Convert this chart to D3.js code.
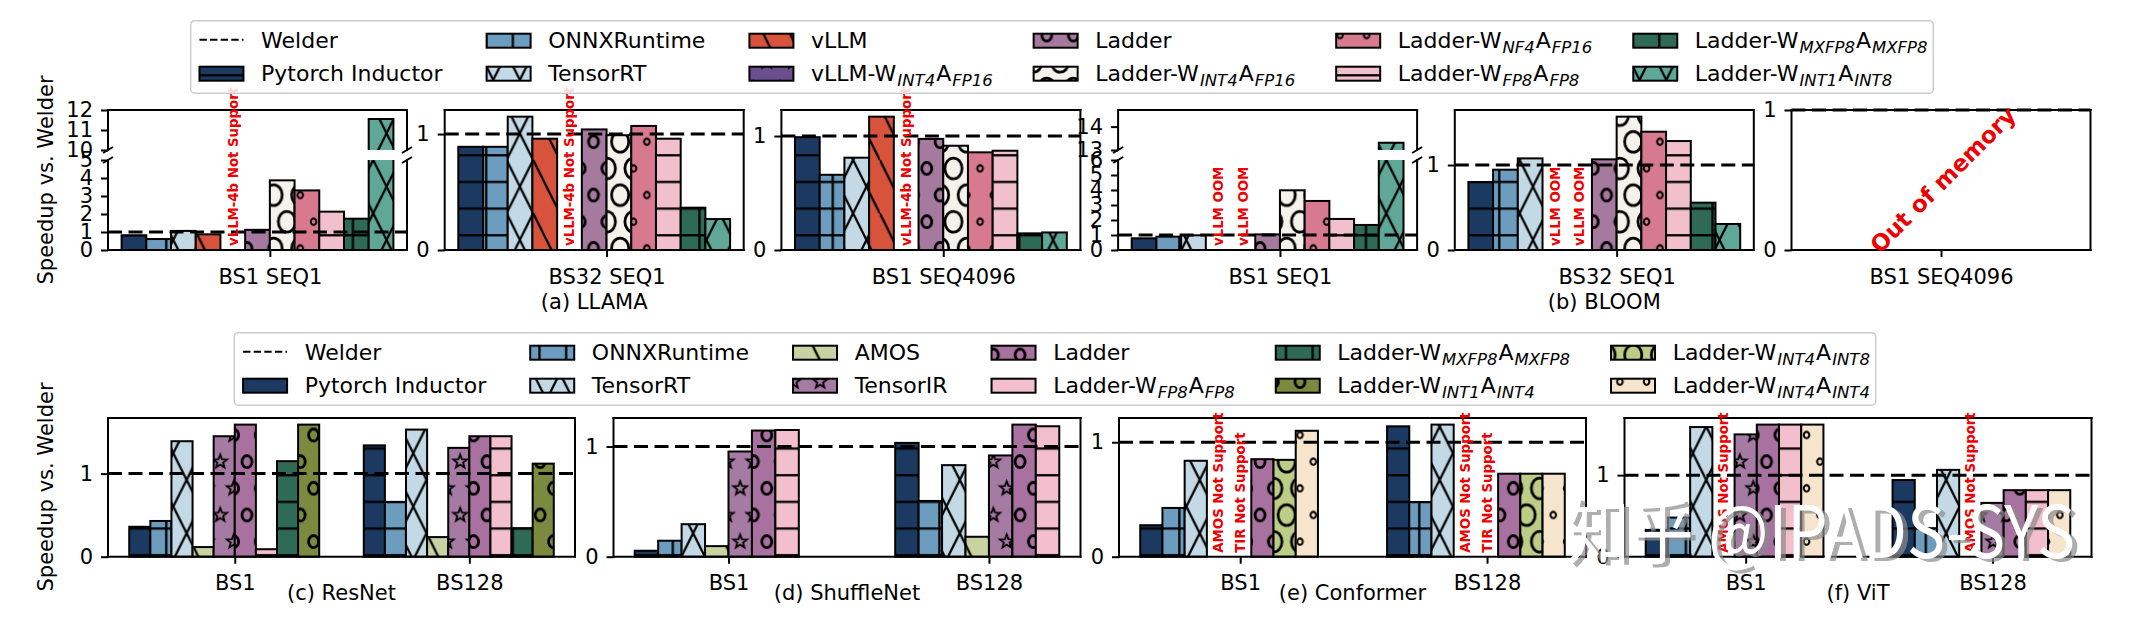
<!DOCTYPE html>
<html><head><meta charset="utf-8">
<script src="https://cdn.jsdelivr.net/npm/d3@7"></script>
<style>
html,body{margin:0;padding:0;background:#fff;}
svg{display:block;font-family:"DejaVu Sans",sans-serif;}
</style></head><body>
<svg id="chart" width="2136" height="620"></svg>
<script>
// ---------------- DATA ----------------
const topSeries = ["Pytorch Inductor","ONNXRuntime","TensorRT","vLLM","vLLM-W_{INT4}A_{FP16}","Ladder","Ladder-W_{INT4}A_{FP16}","Ladder-W_{NF4}A_{FP16}","Ladder-W_{FP8}A_{FP8}","Ladder-W_{MXFP8}A_{MXFP8}","Ladder-W_{INT1}A_{INT8}"];
const topColors = ["#1c3a61","#6c9cbe","#c3dae6","#d8533b","#6b4f8f","#a6799f","#f5f1eb","#d87a8f","#f2c0cc","#2f6a56","#5fa797"];
const topHatches = ["-","+","x","\\","*","o","O",".","-","+","x"];

const llamaCats = ["BS1 SEQ1","BS32 SEQ1","BS1 SEQ4096"];
const bloomCats = ["BS1 SEQ1","BS32 SEQ1","BS1 SEQ4096"];
const llamaBS1SEQ1    = [0.82, 0.61, 1.06, 0.87, null, 1.12, 3.87, 3.31, 2.13, 1.74, 11.55];
const llamaBS32SEQ1   = [0.89, 0.89, 1.15, 0.96, null, 1.04, 0.99, 1.07, 0.96, 0.365, 0.267];
const llamaBS1SEQ4096 = [0.99, 0.66, 0.81, 1.17, null, 0.975, 0.915, 0.857, 0.871, 0.146, 0.154];
const bloomBS1SEQ1    = [0.78, 0.89, 0.98, null, null, 1.04, 3.98, 3.27, 2.07, 1.67, 13.31];
const bloomBS32SEQ1   = [0.80, 0.945, 1.078, null, null, 1.067, 1.569, 1.392, 1.282, 0.557, 0.306];
const llamaNotes = [[4, "vLLM-4b Not Support"]];
const bloomNotes = [[3, "vLLM OOM"], [4, "vLLM OOM"]];
const bloomLongNote = "Out of memory";

const cnnSeries = ["Pytorch Inductor","ONNXRuntime","TensorRT","AMOS","TensorIR","Ladder","Ladder-W_{FP8}A_{FP8}","Ladder-W_{MXFP8}A_{MXFP8}","Ladder-W_{INT1}A_{INT4}","Ladder-W_{INT4}A_{INT8}","Ladder-W_{INT4}A_{INT4}"];
const cnnColors = ["#1c3a61","#6c9cbe","#c3dae6","#c7d3a0","#a57ba3","#a9719f","#f3bfcc","#2f6a56","#7b8a3e","#bccd85","#f7e4cd"];
const cnnHatches = ["-","+","x","\\","*","o","-","+","o","O","."];

const batchCats = ["BS1","BS128"];
const resnetSlots = [0,1,2,3,4,5,6,7,8];
const resnetBS1   = [0.36, 0.43, 1.39, 0.116, 1.45, 1.59, 0.09, 1.15, 1.59];
const resnetBS128 = [1.34, 0.66, 1.53, 0.236, 1.31, 1.45, 1.45, 0.344, 1.12];
const shuffleSlots = [0,1,2,3,4,5,6];
const shuffleBS1   = [0.054, 0.145, 0.295, 0.096, 0.955, 1.145, 1.15];
const shuffleBS128 = [1.033, 0.506, 0.831, 0.181, 0.919, 1.199, 1.184];
const conformerSlots = [0,1,2,3,4,5,9,10];
const conformerBS1   = [0.275, 0.426, 0.838, null, null, 0.852, 0.846, 1.10];
const conformerBS128 = [1.139, 0.478, 1.154, null, null, 0.725, 0.725, 0.725];
const conformerNotes = [[3, "AMOS Not Support"], [4, "TIR Not Support"]];
const vitSlots = [0,1,2,3,4,5,6,10];
const vitBS1   = [0.33, 0.48, 1.59, null, 1.50, 1.62, 1.62, 1.62];
const vitBS128 = [0.94, 0.35, 1.065, null, 0.66, 0.816, 0.816, 0.816];
const vitNotes = [[3, "AMOS Not Support"]];

const yLabel = "Speedup vs. Welder";
const baselineName = "Welder";
const watermark = "知乎 @IPADS-SYS";

// ---------------- STYLE ----------------
const FS = 21, LFS = 22, NOTE_FS = 13.3;
const HP = 26.66, HY0 = 22, HX0 = 6.3, CX0 = 7, CY0 = 8.5;
const DIAG_W = 26.66, DIAG_SLOPE = 2;
const HLW = 2.3, EDGE = 2, SPINE = 2;
const NOTE_RED = "#ee0000";

const svg = d3.select("#chart");
const defs = svg.append("defs");

let patCount = 0;
function makePattern(color, hatch) {
  const id = "p" + (patCount++);
  let tw = HP, th = HP;
  if (hatch === "\\" || hatch === "x") { tw = DIAG_W; th = DIAG_W * DIAG_SLOPE; }
  if ("oO.*".includes(hatch)) th = 2 * HP;
  const p = defs.append("pattern").attr("id", id).attr("patternUnits", "userSpaceOnUse")
    .attr("x", 0).attr("y", 0).attr("width", tw).attr("height", th);
  p.append("rect").attr("width", tw).attr("height", th).attr("fill", color);
  const g = p.append("g").attr("stroke", "#000").attr("stroke-width", HLW).attr("fill", "none");
  if (hatch === "-" || hatch === "+") {
    g.append("line").attr("x1", -1).attr("x2", tw + 1).attr("y1", HY0).attr("y2", HY0);
  }
  if (hatch === "+") {
    g.append("line").attr("x1", HX0).attr("x2", HX0).attr("y1", -1).attr("y2", th + 1);
  }
  if (hatch === "\\" || hatch === "x") {
    [-1, 0, 1].forEach(k => g.append("line").attr("x1", 0).attr("y1", k * th).attr("x2", tw).attr("y2", (k + 1) * th));
  }
  if (hatch === "x") {
    [-1, 0, 1].forEach(k => g.append("line").attr("x1", 0).attr("y1", (k + 1) * th).attr("x2", tw).attr("y2", k * th));
  }
  if ("oO.*".includes(hatch)) {
    const pts = [[CX0 + HP / 2, CY0], [CX0, CY0 + HP]];
    pts.forEach(([px, py]) => {
      [-tw, 0, tw].forEach(dx => [-th, 0, th].forEach(dy => {
        const cx = px + dx, cy = py + dy;
        if (hatch === "*") {
          const R = 7.2, r = R * 0.42;
          const star = d3.range(10).map(j => {
            const a = -Math.PI / 2 + j * Math.PI / 5, rr = j % 2 ? r : R;
            return [cx + rr * Math.cos(a), cy + rr * Math.sin(a)];
          });
          g.append("path").attr("d", "M" + star.join("L") + "Z").attr("stroke-width", 1.8);
        } else {
          const rad = hatch === "o" ? [5.0, 6.0] : hatch === "O" ? [8.6, 10.4] : [2.8, 3.2];
          g.append("ellipse").attr("cx", cx).attr("cy", cy).attr("rx", rad[0]).attr("ry", rad[1])
            .attr("stroke-width", hatch === "." ? 2 : 2.8);
        }
      }));
    });
  }
  return "url(#" + id + ")";
}
const topFills = topSeries.map((s, i) => makePattern(topColors[i], topHatches[i]));
const cnnFills = cnnSeries.map((s, i) => makePattern(cnnColors[i], cnnHatches[i]));

let clipCount = 0;
function makeClip(x, y, w, h) {
  const id = "c" + (clipCount++);
  defs.append("clipPath").attr("id", id).append("rect").attr("x", x).attr("y", y).attr("width", w).attr("height", h);
  return "url(#" + id + ")";
}

function styleAxis(g) {
  g.attr("font-size", FS).attr("font-family", "DejaVu Sans");
  g.select(".domain").remove();
  g.selectAll(".tick line").attr("stroke", "#000").attr("stroke-width", SPINE);
  g.selectAll(".tick text").attr("fill", "#000");
}
function yAxis(scale, left, ticks) {
  const g = svg.append("g").attr("transform", `translate(${left},0)`)
    .call(d3.axisLeft(scale).tickValues(ticks).tickSize(7).tickPadding(8).tickFormat(d3.format("d")));
  styleAxis(g);
  return g;
}
function xAxis(scale, bottom, ticks, labels) {
  const g = svg.append("g").attr("transform", `translate(0,${bottom})`)
    .call(d3.axisBottom(scale).tickValues(ticks).tickSize(7).tickFormat((d, i) => labels[i]));
  styleAxis(g);
  g.selectAll(".tick text").attr("dy", null).attr("y", 33.5);
  return g;
}
function spines(x0, x1, y0, y1, sides) {
  const g = svg.append("g").attr("stroke", "#000").attr("stroke-width", SPINE).attr("stroke-linecap", "square");
  if (sides.includes("t")) g.append("line").attr("x1", x0).attr("x2", x1).attr("y1", y0).attr("y2", y0);
  if (sides.includes("b")) g.append("line").attr("x1", x0).attr("x2", x1).attr("y1", y1).attr("y2", y1);
  if (sides.includes("l")) g.append("line").attr("x1", x0).attr("x2", x0).attr("y1", y0).attr("y2", y1);
  if (sides.includes("r")) g.append("line").attr("x1", x1).attr("x2", x1).attr("y1", y0).attr("y2", y1);
}
function welderLine(x0, x1, y) {
  svg.append("line").attr("x1", x0).attr("x2", x1).attr("y1", y).attr("y2", y)
    .attr("stroke", "#000").attr("stroke-width", 3).attr("stroke-dasharray", "14,6.5");
}
function slotLeft(g, i, n, w) { return g + (i - (n + 1) / 2) * w; }
function xDomainFor(groups, n, w) {
  const lo = slotLeft(groups[0], 0, n, w), hi = slotLeft(groups[groups.length - 1], n - 1, n, w) + w;
  const m = (hi - lo) * 0.05;
  return [lo - m, hi + m];
}
function drawBars(x, y, groups, n, w, valsPerGroup, slotSeries, fills, clip) {
  const data = [];
  groups.forEach((g, gi) => valsPerGroup[gi].forEach((v, i) => {
    if (v !== null) data.push({ l: slotLeft(g, i, n, w), v, s: slotSeries[i] });
  }));
  const sel = svg.append("g").attr("clip-path", clip || null);
  sel.selectAll("rect").data(data).join("rect")
    .attr("x", d => x(d.l)).attr("width", d => x(d.l + w) - x(d.l))
    .attr("y", d => y(d.v)).attr("height", d => y(0) - y(d.v))
    .attr("fill", d => fills[d.s]).attr("stroke", "#000").attr("stroke-width", EDGE);
}
function drawNotes(x, yBottom, groups, n, w, notes) {
  groups.forEach(g => notes.forEach(([slot, txt]) => {
    const cx = x(slotLeft(g, slot, n, w) + w / 2);
    svg.append("text").attr("transform", `translate(${cx + 4.8},${yBottom - 4}) rotate(-90)`)
      .attr("font-size", NOTE_FS).attr("font-weight", "bold").attr("fill", NOTE_RED).text(txt);
  }));
}

// ---------------- TOP ROW ----------------
const TOP_W = 299, TOP_STEP = 336.7, TOP_X0 = 108;
const TOP_Y0 = 110, TOP_Y1 = 250, BRK_UP = 150, BRK_LO = 160;
const topGroups = [0];

function brkMarks(x0, x1) {
  const g = svg.append("g").attr("stroke", "#000").attr("stroke-width", 2);
  [x0, x1].forEach(xx => [BRK_UP, BRK_LO].forEach(yy =>
    g.append("line").attr("x1", xx - 5).attr("y1", yy + 3).attr("x2", xx + 5).attr("y2", yy - 3)));
}

function topPanel(k, vals, cat, ycfg, notes) {
  const left = TOP_X0 + k * TOP_STEP, right = left + TOP_W;
  const n = topSeries.length;
  const x = d3.scaleLinear().domain(xDomainFor(topGroups, n, 1)).range([left, right]);
  if (ycfg.broken) {
    const yLo = d3.scaleLinear().domain(ycfg.lo).range([TOP_Y1, BRK_LO]);
    const yHi = d3.scaleLinear().domain(ycfg.hi).range([BRK_UP, TOP_Y0]);
    drawBars(x, yLo, topGroups, n, 1, [vals], d3.range(n), topFills, makeClip(left, BRK_LO, TOP_W, TOP_Y1 - BRK_LO));
    drawBars(x, yHi, topGroups, n, 1, [vals], d3.range(n), topFills, makeClip(left, TOP_Y0, TOP_W, BRK_UP - TOP_Y0));
    spines(left, right, BRK_LO, TOP_Y1, "lrb");
    spines(left, right, TOP_Y0, BRK_UP, "lrt");
    brkMarks(left, right);
    yAxis(yLo, left, d3.range(ycfg.lo[0], ycfg.lo[1] + 1));
    yAxis(yHi, left, ycfg.hiTicks);
    welderLine(left, right, yLo(1));
    drawNotes(x, TOP_Y1, topGroups, n, 1, notes);
  } else {
    const maxV = d3.max(vals);
    const y = d3.scaleLinear().domain([0, maxV * 1.05]).range([TOP_Y1, TOP_Y0]);
    drawBars(x, y, topGroups, n, 1, [vals], d3.range(n), topFills);
    spines(left, right, TOP_Y0, TOP_Y1, "lrtb");
    yAxis(y, left, [0, 1]);
    welderLine(left, right, y(1));
    drawNotes(x, TOP_Y1, topGroups, n, 1, notes);
  }
  xAxis(x, TOP_Y1, [0], [cat]);
  return { left, right };
}

topPanel(0, llamaBS1SEQ1, llamaCats[0], { broken: true, lo: [0, 5], hi: [10, 12], hiTicks: [10, 11, 12] }, llamaNotes);
const pA = topPanel(1, llamaBS32SEQ1, llamaCats[1], {}, llamaNotes);
topPanel(2, llamaBS1SEQ4096, llamaCats[2], {}, llamaNotes);
topPanel(3, bloomBS1SEQ1, bloomCats[0], { broken: true, lo: [0, 6], hi: [13, 14.71], hiTicks: [13, 14] }, bloomNotes);
const pB = topPanel(4, bloomBS32SEQ1, bloomCats[1], {}, bloomNotes);
// BLOOM BS1 SEQ4096: out of memory panel (no bars)
(function () {
  const left = TOP_X0 + 5 * TOP_STEP, right = left + TOP_W;
  const x = d3.scaleLinear().domain([-1, 1]).range([left, right]);
  const y = d3.scaleLinear().domain([0, 1]).range([TOP_Y1, TOP_Y0]);
  spines(left, right, TOP_Y0, TOP_Y1, "lrtb");
  yAxis(y, left, [0, 1]);
  welderLine(left, right, y(1));
  xAxis(x, TOP_Y1, [0], [bloomCats[2]]);
  svg.append("text").attr("transform", `translate(${x(0) + 2},${y(0.5)}) rotate(-45)`)
    .attr("text-anchor", "middle").attr("dy", "0.35em").attr("font-size", 23).attr("font-weight", "bold")
    .attr("fill", NOTE_RED).text(bloomLongNote);
})();
svg.append("text").attr("x", (pA.left + pA.right) / 2).attr("y", 309).attr("text-anchor", "middle").attr("font-size", FS).text("(a) LLAMA");
svg.append("text").attr("x", (pB.left + pB.right) / 2).attr("y", 309).attr("text-anchor", "middle").attr("font-size", FS).text("(b) BLOOM");

// ---------------- BOTTOM ROW ----------------
const BOT_W = 467, BOT_STEP = 505.5, BOT_X0 = 108, BOT_Y0 = 418, BOT_Y1 = 556.7;
const botGroups = [0, 1], BW = 0.09;
function botPanel(k, slots, bs1, bs128, title, notes) {
  const left = BOT_X0 + k * BOT_STEP, right = left + BOT_W;
  const n = slots.length;
  const x = d3.scaleLinear().domain(xDomainFor(botGroups, n, BW)).range([left, right]);
  const maxV = d3.max(bs1.concat(bs128));
  const y = d3.scaleLinear().domain([0, maxV * 1.05]).range([BOT_Y1, BOT_Y0]);
  drawBars(x, y, botGroups, n, BW, [bs1, bs128], slots, cnnFills);
  spines(left, right, BOT_Y0, BOT_Y1, "lrtb");
  yAxis(y, left, [0, 1]);
  welderLine(left, right, y(1));
  drawNotes(x, BOT_Y1, botGroups, n, BW, notes);
  xAxis(x, BOT_Y1, botGroups, batchCats);
  svg.append("text").attr("x", (left + right) / 2).attr("y", 600).attr("text-anchor", "middle").attr("font-size", FS).text(title);
}
botPanel(0, resnetSlots, resnetBS1, resnetBS128, "(c) ResNet", []);
botPanel(1, shuffleSlots, shuffleBS1, shuffleBS128, "(d) ShuffleNet", []);
botPanel(2, conformerSlots, conformerBS1, conformerBS128, "(e) Conformer", conformerNotes);
botPanel(3, vitSlots, vitBS1, vitBS128, "(f) ViT", vitNotes);

// y labels
[180, 487].forEach(cy => svg.append("text").attr("transform", `translate(53,${cy}) rotate(-90)`)
  .attr("text-anchor", "middle").attr("font-size", FS).text(yLabel));

// ---------------- LEGENDS ----------------
function richLabel(sel, str, fs) {
  const re = /_\{([^}]*)\}/g;
  let last = 0, m, shift = 0;
  const sub = fs * 0.22;
  while ((m = re.exec(str))) {
    if (m.index > last) { sel.append("tspan").attr("dy", -shift).attr("dx", shift ? 1 : 0).text(str.slice(last, m.index)); shift = 0; }
    sel.append("tspan").attr("font-size", fs * 0.75).attr("font-style", "italic").attr("dx", 1).attr("dy", sub - shift).text(m[1]);
    shift = sub; last = re.lastIndex;
  }
  if (last < str.length) sel.append("tspan").attr("dy", -shift).text(str.slice(last));
}
function legend(names, fills, cx, top, fs) {
  const entries = [{ label: baselineName, line: true }].concat(names.map((s, i) => ({ label: s, fill: fills[i] })));
  const ncol = 6, nrow = 2, pad = 0.4 * fs, hl = 2 * fs, htp = 0.8 * fs, cs = 2 * fs, H = 72.5;
  const g = svg.append("g");
  const box = g.append("rect");
  const texts = entries.map(e => {
    const t = g.append("text").attr("font-size", fs).attr("fill", "#000");
    richLabel(t, e.label, fs);
    return t;
  });
  const widths = texts.map(t => t.node().getComputedTextLength());
  const colW = d3.range(ncol).map(c => d3.max([widths[c * 2], widths[c * 2 + 1]]));
  const total = 2 * pad + d3.sum(colW.map(w => w + hl + htp)) + cs * (ncol - 1);
  const left = cx - total / 2;
  box.attr("x", left).attr("y", top).attr("width", total).attr("height", H).attr("rx", 4)
    .attr("fill", "#fff").attr("fill-opacity", 0.85).attr("stroke", "#cccccc").attr("stroke-width", 1.5);
  let xc = left + pad;
  for (let c = 0; c < ncol; c++) {
    for (let r = 0; r < nrow; r++) {
      const idx = c * 2 + r, e = entries[idx];
      const base = top + 27.5 + r * 33;
      const mid = base - 7.5;
      if (e.line) {
        g.append("line").attr("x1", xc).attr("x2", xc + hl).attr("y1", mid - 1).attr("y2", mid - 1)
          .attr("stroke", "#000").attr("stroke-width", 2).attr("stroke-dasharray", "7.4,3.2");
      } else {
        g.append("rect").attr("x", xc).attr("y", mid - 7).attr("width", hl).attr("height", 14)
          .attr("fill", e.fill).attr("stroke", "#000").attr("stroke-width", EDGE);
      }
      texts[idx].attr("x", xc + hl + htp).attr("y", base);
      texts[idx].selectAll("tspan").filter((d, i) => i === 0).attr("x", xc + hl + htp);
    }
    xc += colW[c] + hl + htp + cs;
  }
}
legend(topSeries, topFills, 1062, 20.7, LFS);
legend(cnnSeries, cnnFills, 1055, 332.7, LFS);

// ---------------- WATERMARK ----------------
svg.append("text").attr("x", 1571).attr("y", 561).attr("font-family", "Noto Sans CJK SC").attr("font-size", 72)
  .attr("textLength", 509).attr("lengthAdjust", "spacingAndGlyphs").attr("fill", "#8c8c8c").attr("fill-opacity", 0.7).text(watermark);
svg.append("text").attr("x", 1566).attr("y", 558).attr("font-family", "Noto Sans CJK SC").attr("font-size", 72)
  .attr("textLength", 509).attr("lengthAdjust", "spacingAndGlyphs").attr("fill", "#ffffff").text(watermark);
</script>
</body></html>
